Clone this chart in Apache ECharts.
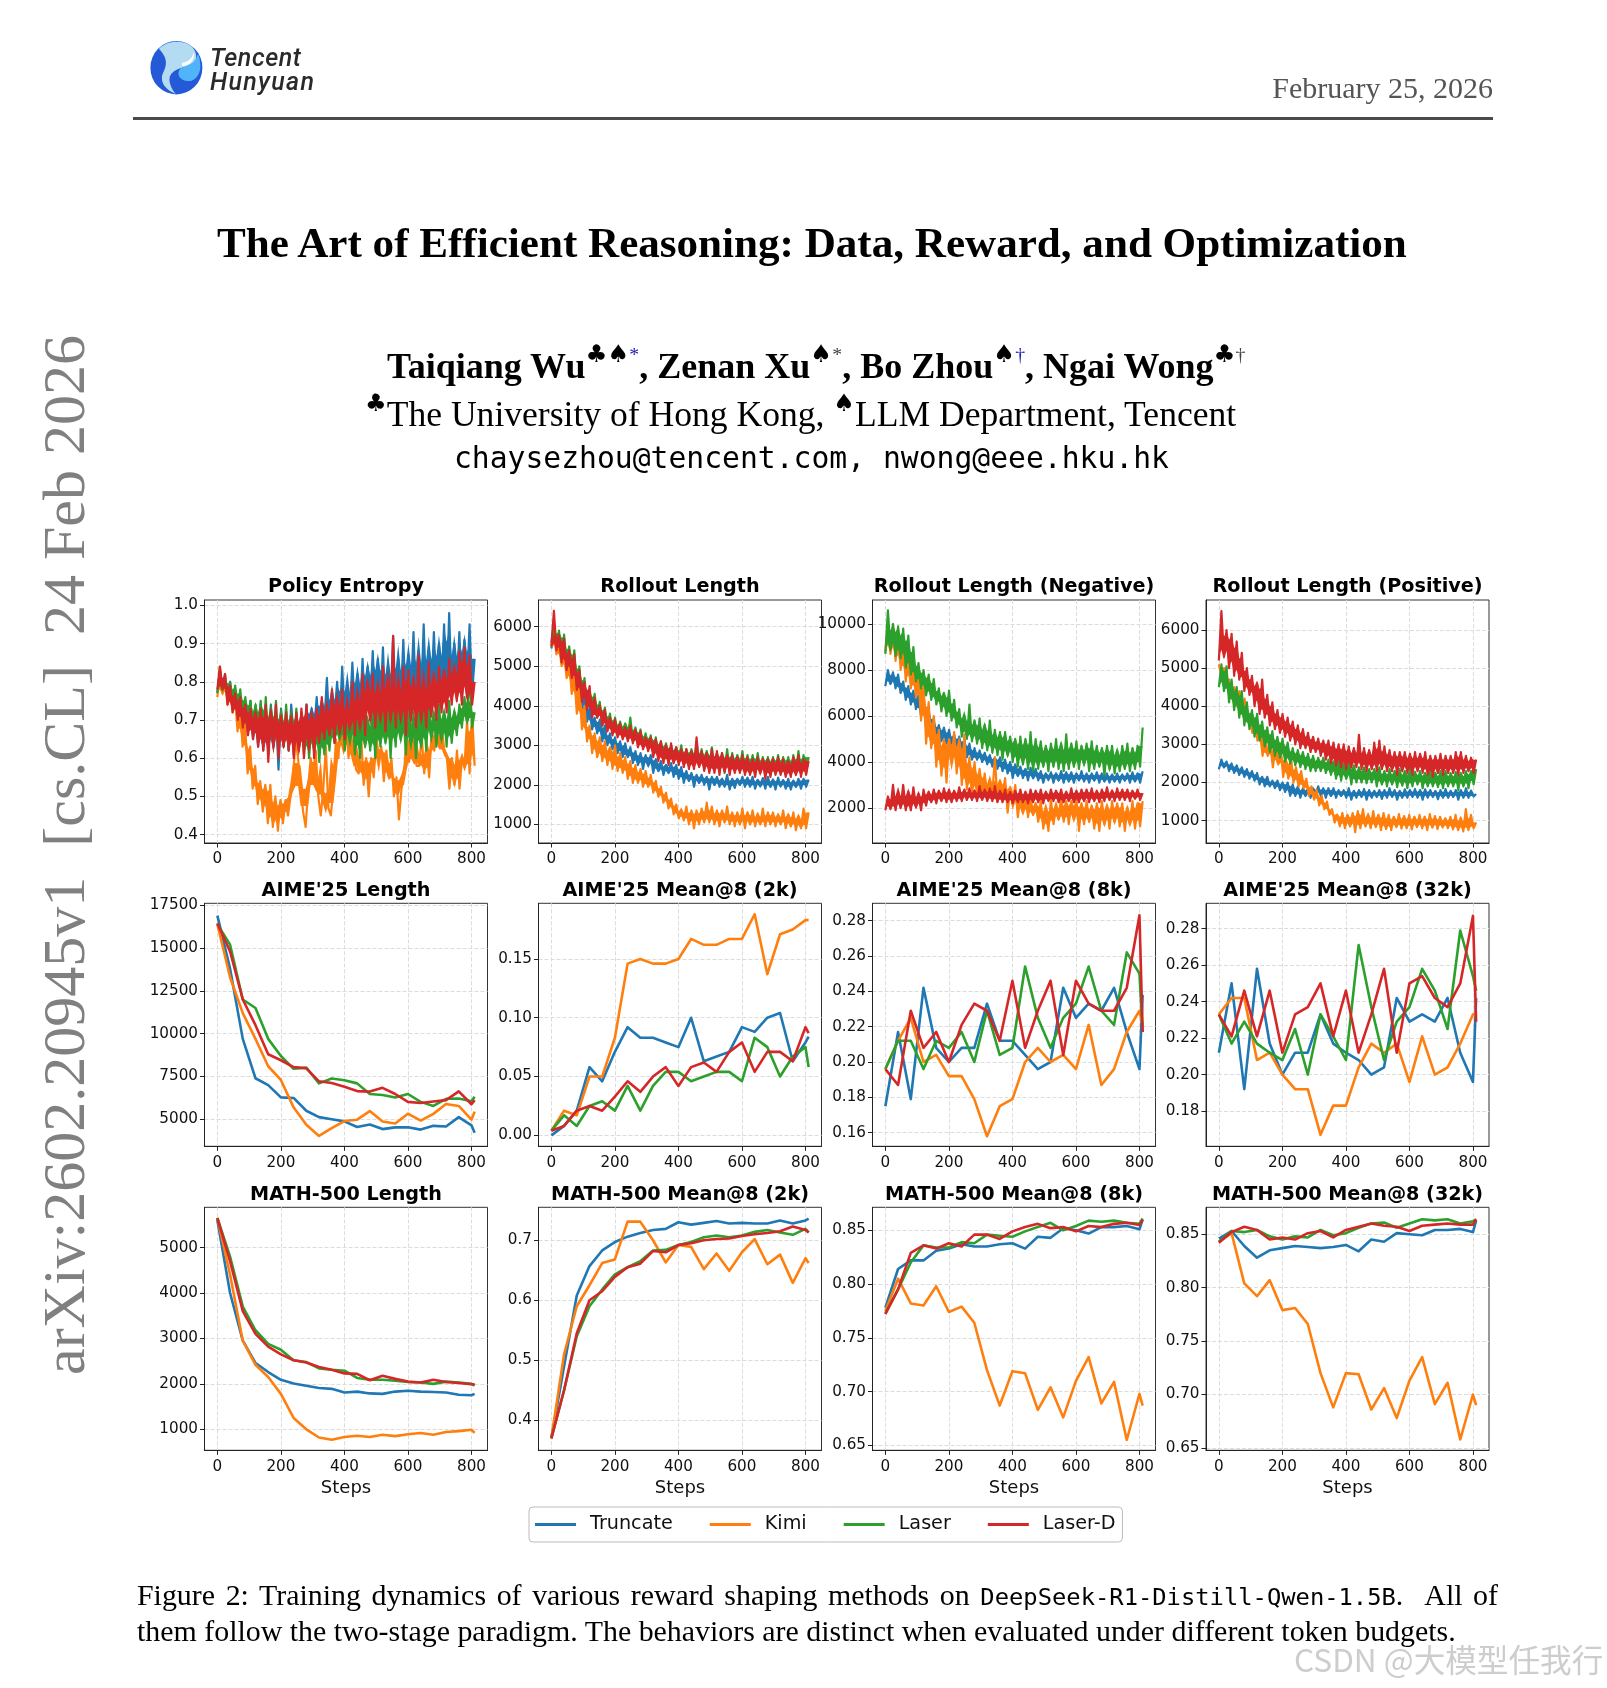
<!DOCTYPE html>
<html><head><meta charset="utf-8">
<script src="https://cdn.jsdelivr.net/npm/echarts@6/dist/echarts.min.js"></script>
<style>
html,body{margin:0;padding:0;background:#fff;width:1607px;height:1688px;overflow:hidden}
#chart{position:absolute;left:0;top:0;width:1607px;height:1688px}
.t{position:absolute;white-space:nowrap;line-height:1;font-family:"Liberation Serif",serif;color:#000}
.m{font-family:"DejaVu Sans Mono",monospace}
.s{font-family:"DejaVu Sans";font-size:.68em;vertical-align:.64em;line-height:0;letter-spacing:0;font-weight:normal}
.o{font-size:.55em;vertical-align:.85em;line-height:0;font-weight:normal}
</style></head><body>
<div id="chart"></div>
<svg class="t" style="left:148px;top:40px" width="58" height="56" viewBox="0 0 58 56">
<ellipse cx="28.4" cy="27.7" rx="26" ry="26.7" fill="#2459d8"/>
<path d="M11 9C18 0 38-1 45 8C50 14 49 22 44 24C36 28 26 28 22 36C20 42 24 50 28 54C18 50 11 42 15 33C19 25 20 18 11 9Z" fill="#b3dcf2"/>
<path d="M52 22C54 32 48 42 40 41C32 41 28 34 32 29C38 25 46 26 50 14C51 16 52 19 52 22Z" fill="#52b4f8"/>
<path d="M34 23C40 22 44 19 46 12C47 20 42 26 34 26Z" fill="#fff"/>
</svg>
<div class="t" style="left:210px;top:45px;font:italic 500 25px/1 'Roboto';color:#2a2a2a;letter-spacing:.6px">Tencent</div>
<div class="t" style="left:210px;top:69px;font:italic 500 25px/1 'Roboto';color:#2a2a2a;letter-spacing:1.3px">Hunyuan</div>
<div class="t" style="right:114px;top:73px;font-size:30px;color:#555">February 25, 2026</div>
<div style="position:absolute;left:133px;top:117px;width:1360px;height:3px;background:#4a4a4a"></div>
<div class="t" style="left:217px;top:221px;font-size:43.1px;font-weight:bold">The Art of Efficient Reasoning: Data, Reward, and Optimization</div>
<div class="t" style="left:387px;top:348px;font-size:36px;font-weight:bold">Taiqiang Wu<span class="s">♣♠</span><span class="o" style="color:#1a1ab0">*</span>, Zenan Xu<span class="s">♠</span><span class="o" style="color:#444">*</span>, Bo Zhou<span class="s">♠</span><span class="o" style="color:#1a1ab0">†</span>, Ngai Wong<span class="s">♣</span><span class="o" style="color:#444">†</span></div>
<div class="t" style="left:365px;top:397px;font-size:35.6px"><span class="s">♣</span>The University of Hong Kong, <span class="s">♠</span>LLM Department, Tencent</div>
<div class="t m" style="left:454px;top:443px;font-size:29.7px">chaysezhou@tencent.com, nwong@eee.hku.hk</div>
<div class="t" style="left:137px;top:1580px;width:1361px;font-size:29.9px;text-align:justify;text-align-last:justify;white-space:normal">Figure 2: Training dynamics of various reward shaping methods on <span class="m" style="font-size:23.8px">DeepSeek-R1-Distill-Qwen-1.5B</span><span style="margin-right:12px">.</span> All of</div>
<div class="t" style="left:137px;top:1616px;font-size:29.9px">them follow the two-stage paradigm. The behaviors are distinct when evaluated under different token budgets.</div>
<div class="t" style="left:1294px;top:1643px;font:31.6px/1 'Noto Sans CJK SC';color:#cdcdcd">CSDN @大模型任我行</div>
<div class="t" style="left:34px;top:1375px;font-size:60px;color:#808080;transform-origin:0 0;transform:rotate(-90deg)">arXiv:2602.20945v1&nbsp; [cs.CL]&nbsp; 24 Feb 2026</div>
<script>
const methodNames = ['Truncate','Kimi','Laser','Laser-D'];
const methodColors = ['#1f77b4','#ff7f0e','#2ca02c','#d62728'];
const xTicks = [0,200,400,600,800];
const evalSteps = [0,40,80,120,160,200,240,280,320,360,400,440,480,520,560,600,640,680,720,760,800,810];

const panelTitles = ['Policy Entropy','Rollout Length','Rollout Length (Negative)','Rollout Length (Positive)',"AIME'25 Length","AIME'25 Mean@8 (2k)","AIME'25 Mean@8 (8k)","AIME'25 Mean@8 (32k)",'MATH-500 Length','MATH-500 Mean@8 (2k)','MATH-500 Mean@8 (8k)','MATH-500 Mean@8 (32k)'];
const yTicks = [
 ['0.4','0.5','0.6','0.7','0.8','0.9','1.0'],
 ['1000','2000','3000','4000','5000','6000'],
 ['2000','4000','6000','8000','10000'],
 ['1000','2000','3000','4000','5000','6000'],
 ['5000','7500','10000','12500','15000','17500'],
 ['0.00','0.05','0.10','0.15'],
 ['0.16','0.18','0.20','0.22','0.24','0.26','0.28'],
 ['0.18','0.20','0.22','0.24','0.26','0.28'],
 ['1000','2000','3000','4000','5000'],
 ['0.4','0.5','0.6','0.7'],
 ['0.65','0.70','0.75','0.80','0.85'],
 ['0.65','0.70','0.75','0.80','0.85']];
const yLimits = [[0.378,1.014],[527,6676],[476,11045],[413,6788],[3425,17617],[-0.0093,0.1973],[0.1523,0.2898],[0.1607,0.2939],[538,5886],[0.35,0.7549],[0.6454,0.8714],[0.6478,0.8752]];

const entropyTruncate=[.77,.83,.78,.82,.76,.80,.74,.78,.71,.76,.69,.74,.66,.75,.65,.72,.63,.74,.62,.71,.61,.74,.63,.72,.57,.73,.64,.71,.62,.74,.65,.70,.64,.72,.66,.74,.64,.73,.67,.76,.65,.75,.69,.81,.68,.77,.70,.80,.69,.84,.70,.79,.72,.85,.71,.82,.72,.86,.70,.84,.74,.88,.72,.86,.73,.89,.71,.84,.75,.92,.73,.86,.74,.91,.72,.87,.76,.93,.73,.88,.75,.95,.74,.89,.76,.93,.75,.90,.77,.95,.75,.98,.76,.90,.77,.93,.75,.91,.78,.95,.77,.86];
const entropyKimi=[.76,.84,.77,.81,.74,.79,.72,.76,.67,.74,.63,.69,.56,.63,.52,.58,.48,.54,.46,.53,.43,.53,.42,.50,.41,.49,.43,.49,.45,.50,.55,.65,.60,.52,.46,.42,.52,.60,.56,.62,.50,.45,.52,.63,.47,.45,.52,.65,.60,.71,.63,.71,.60,.66,.62,.57,.56,.66,.53,.60,.50,.60,.55,.66,.60,.63,.54,.62,.55,.60,.50,.55,.44,.52,.56,.66,.59,.68,.62,.58,.58,.66,.56,.62,.55,.68,.62,.67,.63,.68,.62,.60,.52,.60,.53,.62,.52,.60,.58,.70,.56,.72,.58];
const entropyLaser=[.77,.83,.78,.81,.75,.80,.73,.79,.72,.78,.70,.76,.67,.75,.66,.74,.65,.75,.64,.76,.63,.73,.64,.75,.61,.72,.63,.74,.62,.72,.61,.73,.63,.70,.61,.72,.60,.70,.62,.71,.59,.69,.61,.72,.62,.70,.64,.74,.65,.75,.62,.70,.65,.72,.61,.71,.60,.72,.63,.70,.62,.73,.60,.76,.63,.71,.64,.74,.60,.73,.63,.78,.65,.72,.61,.76,.64,.70,.60,.74,.63,.73,.62,.75,.66,.71,.63,.74,.65,.72,.63,.75,.64,.72,.66,.74,.68,.76,.70,.82,.68,.72];
const entropyLaserD=[.78,.84,.78,.82,.74,.79,.72,.77,.70,.76,.68,.74,.66,.73,.65,.72,.63,.73,.62,.74,.59,.72,.64,.74,.60,.71,.63,.72,.62,.71,.60,.72,.62,.73,.60,.74,.63,.72,.60,.73,.64,.76,.65,.74,.66,.78,.64,.76,.67,.78,.65,.74,.68,.80,.66,.77,.68,.82,.66,.80,.70,.82,.68,.79,.70,.84,.67,.81,.70,.92,.68,.80,.70,.84,.66,.83,.70,.81,.68,.87,.70,.80,.68,.85,.71,.82,.70,.84,.72,.83,.72,.86,.74,.84,.75,.88,.74,.89,.76,.87,.74,.80];

const rolloutTruncate=[5450,5800,5500,5750,5200,5500,4900,5350,4500,4900,4050,4600,3900,4300,3600,3950,3400,3700,3300,3650,3100,3500,3000,3300,2900,3200,2800,3100,2700,3050,2700,2950,2550,2850,2500,2800,2400,2750,2500,2750,2300,2650,2350,2600,2250,2500,2300,2550,2200,2500,2150,2450,2050,2350,2100,2300,1950,2250,2050,2250,2000,2200,1880,2200,2000,2200,1950,2150,1950,2250,1880,2150,1920,2150,2000,2200,1950,2180,1950,2200,1900,2120,1970,2170,1900,2200,1950,2130,1880,2180,1970,2120,1900,2150,1880,2100,1950,2150,1900,2150,1950,2130];
const rolloutKimi=[5500,5800,5300,5600,5000,5300,4700,5100,4300,4800,3800,4500,3400,4000,3100,3500,2800,3300,2700,3200,2600,3100,2500,2950,2400,3000,2350,2800,2300,2700,2150,2600,2050,2500,2050,2400,1950,2350,1950,2250,1800,2100,1700,1950,1550,1800,1400,1650,1250,1500,1150,1350,1100,1450,1000,1350,900,1350,1000,1400,1050,1550,1050,1450,1000,1350,950,1350,1050,1450,1000,1300,950,1300,1000,1400,900,1300,1000,1350,950,1250,1000,1400,950,1300,1000,1300,950,1250,1000,1350,900,1250,950,1300,850,1200,900,1400,900,1300];
const rolloutLaser=[5600,6100,5500,5900,5200,5800,5000,5500,4800,5400,4500,5000,4200,4700,4000,4400,3800,4300,3700,4100,3500,3950,3400,3800,3300,3700,3250,3600,3200,3550,3200,3700,3100,3450,3000,3400,2950,3300,2900,3250,2800,3200,2750,3100,2700,3050,2650,3000,2600,2950,2600,3000,2550,2900,2500,2900,2450,3100,2500,2900,2400,2850,2350,2950,2450,2800,2350,2800,2300,2900,2350,2800,2350,2750,2400,2850,2300,2750,2300,2750,2250,2800,2350,2700,2250,2700,2250,2700,2300,2750,2350,2700,2250,2700,2250,2750,2300,2850,2300,2750,2300,2700];
const rolloutLaserD=[5500,6400,5400,5800,5100,5700,4900,5400,4700,5300,4400,4900,4100,4600,3900,4500,3700,4200,3700,4000,3500,3900,3350,3700,3250,3650,3200,3550,3150,3450,3100,3500,3050,3400,2950,3350,2900,3200,2850,3200,2700,3150,2600,3100,2550,3000,2500,3050,2550,2950,2500,2900,2450,2900,2400,2850,2400,3200,2450,2850,2350,2800,2300,2900,2300,2850,2250,2800,2350,2750,2250,2750,2300,2700,2300,2750,2250,2700,2250,2650,2200,2700,2300,2650,2150,2650,2200,2650,2250,2700,2250,2650,2200,2600,2200,2700,2250,2750,2200,2650,2250,2600];

const negTruncate=[7300,8000,7400,7900,7200,7800,7000,7500,6700,7300,6500,7100,6300,6900,6000,6500,5800,6300,5300,5900,5000,5600,4900,5500,4800,5400,4700,5200,4500,5100,4400,5000,4200,4800,4100,4600,4100,4500,4000,4400,3900,4300,3800,4200,3700,4200,3600,4100,3500,4000,3300,3900,3400,3800,3300,3700,3200,3750,3300,3700,3200,3600,3100,3500,3250,3550,3100,3500,3200,3600,3100,3550,3150,3550,3100,3500,3200,3600,3150,3500,3100,3500,3200,3550,3100,3500,3150,3500,3100,3450,3150,3500,3100,3450,3200,3500,3100,3550,3150,3500,3100,3600];
const negKimi=[8800,9900,8700,10000,8400,9800,8000,9400,7500,8800,7200,8600,6800,7800,5800,7400,4800,6600,4600,6000,3800,5400,3400,5000,3100,5000,4000,5300,3500,4900,3000,5200,2800,4200,2500,4000,2700,3700,2500,3500,2400,3200,2600,4200,2300,3200,2500,3300,1800,2900,2200,3000,1600,2500,1800,2600,1600,2400,1700,2200,1400,2300,1100,2000,1000,2400,1300,2100,1500,2500,1400,2300,1300,2300,1500,2400,1000,2200,1300,2300,1400,2100,1100,2200,1000,2300,1300,2100,1100,2300,1400,2200,1200,2200,1000,2000,1300,2300,1100,2200,1200,2300];
const negLaser=[8700,10600,8900,10000,8600,9900,8500,9800,8100,9500,7800,9000,7500,8300,7200,8000,6900,7800,6700,7600,6500,7200,6200,7000,6000,7100,5800,6700,5500,6300,5100,6000,5000,6500,4900,5800,4800,5900,4600,5600,4500,5800,4400,5400,4300,5300,4100,5300,4300,5100,4000,5000,3800,5100,3900,5000,3700,5300,3600,5000,3700,4900,3800,4700,3600,4800,3800,5000,3700,4800,3600,5200,3700,4800,3800,4900,3700,4700,3900,4800,3600,4900,3700,4700,3800,4600,3400,4700,3700,4700,3500,4500,3600,4700,3700,4800,3600,4600,3700,4700,3800,5500];
const negLaserD=[1900,2500,1950,3000,1900,2700,2000,3000,1900,2700,1900,2900,2050,2600,1900,2800,2100,2700,2250,2800,2200,2750,2300,2850,2250,2800,2250,2750,2300,2900,2300,2800,2350,2850,2350,2750,2300,2950,2350,2800,2300,2850,2300,2950,2250,2750,2250,2800,2250,2700,2200,2750,2250,2800,2250,2700,2200,2800,2250,2750,2250,2800,2200,2700,2300,2800,2300,2750,2250,2800,2250,2700,2300,2850,2250,2750,2250,2800,2300,2800,2250,2850,2300,2750,2250,2800,2300,2900,2350,2750,2300,2850,2350,2800,2350,2800,2300,2750,2400,2800,2350,2650];

const posTruncate=[2350,2600,2400,2550,2300,2500,2250,2450,2200,2400,2150,2350,2100,2300,2050,2250,1950,2150,1900,2150,1900,2050,1850,2050,1800,2000,1750,2000,1650,1950,1650,1900,1600,1850,1650,1850,1600,1850,1700,1900,1650,1850,1600,1850,1650,1850,1600,1800,1650,1800,1600,1850,1550,1780,1600,1800,1620,1830,1550,1800,1600,1780,1620,1800,1570,1800,1600,1850,1620,1800,1550,1780,1600,1820,1600,1800,1620,1830,1600,1800,1550,1820,1600,1800,1620,1780,1560,1800,1600,1830,1600,1780,1620,1800,1550,1800,1600,1850,1600,1790,1630,1700];
const posKimi=[5100,4800,5000,4500,4700,4200,4500,4000,4400,3800,4200,3600,3800,3300,3600,3100,3300,2700,3200,2700,3000,2400,2900,2500,2900,2150,2600,2100,2700,2000,2400,1900,2300,1850,2100,1650,1900,1550,1800,1400,1650,1300,1500,1150,1300,950,1150,850,1200,800,1150,850,1200,700,1250,800,1300,850,1150,800,1250,830,1150,750,1200,780,1150,750,1100,830,1170,790,1120,800,1150,770,1100,830,1150,800,1100,750,1170,820,1120,780,1100,820,1060,800,1100,770,1150,750,1060,720,1300,750,1150,800,950];
const posLaser=[4500,5100,4400,5050,4100,4700,3900,4500,3700,4400,3500,4100,3400,3900,3200,3800,3100,3600,2950,3450,2800,3350,2700,3200,2650,3150,2550,3050,2500,2900,2450,2850,2400,2800,2350,2750,2300,2700,2300,2650,2300,2650,2250,2600,2200,2550,2100,2600,2050,2500,2100,2500,1950,2450,2000,2400,2000,2400,1980,2350,2000,2350,1900,2400,1950,2300,1900,2350,1950,2300,1880,2350,1920,2300,1850,2350,1900,2280,1950,2300,1850,2250,1900,2300,1900,2250,1880,2300,1850,2300,1900,2250,1900,2280,1800,2250,1900,2300,1850,2300,1950,2350];
const posLaserD=[5200,6500,5300,6000,5000,5900,4800,5700,4700,5400,4400,5000,4300,4800,4000,4600,3800,4700,3700,4300,3500,4100,3400,3900,3300,3800,3200,3700,3100,3600,3000,3500,2900,3400,2900,3300,2800,3200,2800,3150,2700,3100,2600,3100,2500,3050,2450,3000,2400,3000,2350,2950,2400,2900,2400,3250,2350,2900,2300,2850,2350,3050,2300,3100,2350,2950,2300,2850,2300,2800,2200,2800,2300,2800,2250,2750,2200,2800,2300,2750,2250,2800,2200,2700,2150,2700,2250,2750,2200,2700,2250,2700,2250,2800,2200,2800,2250,2700,2300,2650,2250,2600];

const aimeLenTruncate=[16900,13800,9700,7400,7000,6280,6250,5500,5130,5000,4880,4550,4700,4430,4530,4540,4400,4620,4580,5130,4650,4220];
const aimeLenKimi=[16400,13300,11200,9700,8100,7300,5700,4680,4030,4480,4900,4980,5480,4870,4760,5330,4930,5320,5900,5780,4980,5450];
const aimeLenLaser=[16400,15200,12000,11500,9700,8700,7950,8020,7100,7380,7280,7100,6480,6420,6280,6480,6020,5780,6200,6220,6050,6320];
const aimeLenLaserD=[16450,14800,12000,10500,8800,8450,8050,7980,7220,7120,6900,6650,6620,6840,6480,6020,5950,6040,6120,6630,5880,6120];

const aime2kTruncate=[0,.008,.021,.058,.046,.071,.092,.083,.083,.079,.075,.100,.063,.067,.071,.092,.088,.100,.104,.063,.079,.084];
const aime2kKimi=[.004,.021,.017,.050,.050,.083,.146,.150,.146,.146,.150,.167,.162,.162,.167,.167,.188,.137,.171,.175,.183,.183];
const aime2kLaser=[.004,.017,.008,.025,.029,.021,.042,.021,.042,.054,.054,.046,.050,.054,.054,.046,.083,.075,.050,.067,.075,.058];
const aime2kLaserD=[.004,.008,.021,.025,.021,.033,.046,.037,.050,.058,.042,.058,.062,.054,.071,.079,.054,.071,.071,.063,.092,.087];

const aime8kTruncate=[.175,.217,.179,.242,.208,.200,.208,.208,.233,.212,.212,.204,.196,.200,.242,.225,.233,.229,.242,.217,.196,.238];
const aime8kKimi=[.196,.212,.225,.200,.204,.192,.192,.179,.158,.175,.179,.200,.208,.200,.204,.196,.221,.187,.196,.217,.229,.221];
const aime8kLaser=[.196,.212,.212,.196,.212,.208,.217,.200,.229,.204,.208,.254,.225,.208,.225,.233,.254,.229,.221,.262,.250,.217];
const aime8kLaserD=[.196,.187,.229,.208,.217,.200,.221,.233,.229,.212,.246,.208,.229,.246,.204,.246,.233,.229,.229,.242,.283,.217];

const aime32kTruncate=[.212,.250,.192,.258,.217,.200,.212,.212,.233,.217,.212,.208,.200,.204,.242,.229,.233,.229,.242,.212,.196,.242];
const aime32kKimi=[.233,.242,.242,.208,.212,.200,.192,.192,.167,.183,.183,.204,.217,.212,.217,.196,.221,.200,.204,.217,.233,.233];
const aime32kLaser=[.233,.217,.229,.217,.212,.208,.225,.200,.233,.221,.208,.271,.237,.208,.229,.237,.258,.246,.225,.279,.254,.246];
const aime32kLaserD=[.233,.221,.246,.221,.246,.212,.233,.237,.250,.221,.246,.212,.233,.258,.212,.250,.254,.242,.237,.250,.287,.229];

const mathLenTruncate=[5600,4000,2950,2460,2260,2090,2010,1960,1910,1890,1810,1830,1790,1780,1830,1850,1830,1820,1810,1760,1750,1780];
const mathLenKimi=[5650,4400,2950,2420,2150,1780,1250,1000,820,770,830,860,830,880,850,890,920,880,940,960,990,920];
const mathLenLaser=[5650,4800,3700,3180,2880,2750,2520,2480,2340,2310,2290,2130,2090,2090,2070,2040,2030,2000,2050,2030,2000,1960];
const mathLenLaserD=[5650,4700,3600,3100,2820,2650,2520,2470,2370,2310,2230,2220,2080,2180,2110,2050,2030,2090,2040,2020,1990,1990];

const math2kTruncate=[.37,.49,.608,.657,.683,.697,.706,.712,.717,.719,.730,.726,.729,.732,.728,.729,.728,.728,.733,.728,.733,.736];
const math2kKimi=[.37,.51,.59,.625,.662,.668,.731,.731,.70,.663,.692,.689,.652,.678,.649,.68,.702,.66,.676,.629,.67,.662];
const math2kLaser=[.37,.45,.54,.59,.618,.643,.655,.665,.683,.684,.692,.697,.705,.708,.705,.708,.714,.717,.713,.709,.719,.713];
const math2kLaserD=[.37,.45,.545,.60,.615,.639,.655,.661,.682,.68,.692,.695,.70,.702,.703,.707,.71,.712,.715,.723,.717,.713];

const math8kTruncate=[.778,.814,.822,.822,.831,.833,.837,.835,.835,.837,.838,.833,.844,.843,.852,.850,.847,.853,.853,.854,.851,.860];
const math8kKimi=[.775,.805,.782,.780,.798,.774,.779,.764,.72,.687,.719,.717,.683,.704,.676,.71,.732,.689,.709,.655,.698,.687];
const math8kLaser=[.773,.795,.820,.836,.834,.834,.839,.838,.846,.845,.844,.849,.853,.857,.850,.854,.859,.858,.859,.857,.856,.861];
const math8kLaserD=[.772,.795,.829,.836,.833,.838,.835,.846,.846,.842,.849,.853,.856,.852,.853,.849,.854,.853,.856,.857,.855,.860];

const math32kTruncate=[.846,.853,.839,.828,.835,.837,.839,.838,.837,.838,.840,.834,.845,.843,.851,.850,.849,.854,.854,.855,.852,.863];
const math32kKimi=[.843,.851,.804,.792,.807,.779,.781,.766,.72,.688,.72,.719,.686,.706,.678,.713,.735,.691,.711,.658,.70,.69];
const math32kLaser=[.843,.853,.852,.854,.848,.845,.848,.847,.854,.849,.851,.856,.860,.861,.856,.860,.864,.863,.864,.860,.862,.864];
const math32kLaserD=[.842,.852,.857,.854,.845,.847,.845,.851,.853,.847,.854,.857,.860,.858,.857,.853,.858,.859,.860,.859,.859,.864];

const panelSeries = [
 [entropyTruncate,entropyKimi,entropyLaser,entropyLaserD],
 [rolloutTruncate,rolloutKimi,rolloutLaser,rolloutLaserD],
 [negTruncate,negKimi,negLaser,negLaserD],
 [posTruncate,posKimi,posLaser,posLaserD],
 [aimeLenTruncate,aimeLenKimi,aimeLenLaser,aimeLenLaserD],
 [aime2kTruncate,aime2kKimi,aime2kLaser,aime2kLaserD],
 [aime8kTruncate,aime8kKimi,aime8kLaser,aime8kLaserD],
 [aime32kTruncate,aime32kKimi,aime32kLaser,aime32kLaserD],
 [mathLenTruncate,mathLenKimi,mathLenLaser,mathLenLaserD],
 [math2kTruncate,math2kKimi,math2kLaser,math2kLaserD],
 [math8kTruncate,math8kKimi,math8kLaser,math8kLaserD],
 [math32kTruncate,math32kKimi,math32kLaser,math32kLaserD]];

const colLeft=[204.5,538.5,872.5,1206], rowTop=[600,903.3,1207.3], panelW=283, panelH=243;
const grid=[],xAxis=[],yAxis=[],title=[],series=[];
// Solid core of a dense noisy trace, taken from the readings around each point; the peaks stay as spikes beyond it.
function coreBand(points){
  const up=[],lo=[];
  points.forEach((p,i)=>{
    const w=points.slice(Math.max(0,i-2),i+3).map(q=>q[1]).sort((a,b)=>a-b);
    const mid=w[Math.floor(w.length/2)];
    up.push([p[0],(mid+3*w[w.length-2])/4]);lo.push([p[0],(mid+3*w[1])/4]);
  });
  return up.concat(lo.reverse());
}
panelTitles.forEach((name,p)=>{
  const c=p%4,r=Math.floor(p/4),l=colLeft[c],t=rowTop[r];
  grid.push({left:l,top:t,width:panelW,height:panelH,show:true,borderColor:'#333',borderWidth:1,backgroundColor:'#fff'});
  title.push({text:name,left:l+panelW/2,top:t-22.5,padding:0,textAlign:'center',textStyle:{fontFamily:'DejaVu Sans',fontWeight:'bold',fontSize:19.2,color:'#000',lineHeight:20}});
  const split={show:true,lineStyle:{color:'#dcdcdc',type:[4,2],width:1}};
  const tick={show:true,length:4.5,lineStyle:{color:'#222',width:1}};
  xAxis.push({gridIndex:p,type:'value',min:-40.5,max:850.5,name:r===2?'Steps':'',nameLocation:'middle',nameGap:29,
    nameTextStyle:{fontFamily:'DejaVu Sans',fontSize:18,color:'#111'},
    axisLine:{show:true,onZero:false,lineStyle:{color:'#222',width:1}},
    axisTick:{...tick,customValues:xTicks},splitLine:split,
    axisLabel:{customValues:xTicks,fontFamily:'DejaVu Sans',fontSize:15.2,color:'#111',margin:9}});
  const labels=yTicks[p],dec=(labels[0].split('.')[1]||'').length,vals=labels.map(Number);
  yAxis.push({gridIndex:p,type:'value',min:yLimits[p][0],max:yLimits[p][1],
    axisLine:{show:true,onZero:false,lineStyle:{color:'#222',width:1}},
    axisTick:{...tick,customValues:vals},splitLine:split,
    axisLabel:{customValues:vals,formatter:v=>Number(v).toFixed(dec),fontFamily:'DejaVu Sans',fontSize:15.2,color:'#111',margin:6.5}});
  panelSeries[p].forEach((vals2,m)=>{
    const noisy=vals2.length>evalSteps.length;
    const pts=vals2.map((v,i)=>[noisy?i*810/(vals2.length-1):evalSteps[i],v]);
    if(noisy){
      const band=coreBand(pts);
      series.push({type:'custom',xAxisIndex:p,yAxisIndex:p,silent:true,animation:false,z:3+m,data:[pts[0]],clip:true,
        renderItem:(params,api)=>({type:'polygon',shape:{points:band.map(b=>api.coord(b))},style:{fill:methodColors[m]}})});
    }
    series.push({type:'line',name:methodNames[m],xAxisIndex:p,yAxisIndex:p,showSymbol:false,symbol:'none',silent:true,animation:false,z:3+m,
      lineStyle:{color:methodColors[m],width:noisy?2.2:2.6,join:'round'},itemStyle:{color:methodColors[m]},data:pts});
  });
});
const chart=echarts.init(document.getElementById('chart'),null,{renderer:'canvas',width:1607,height:1688});
chart.setOption({animation:false,backgroundColor:'transparent',grid,xAxis,yAxis,title,series,
  legend:{data:methodNames,left:529,top:1507,orient:'horizontal',padding:[8,7,8,6],itemWidth:41,itemHeight:3,itemGap:37,icon:'rect',borderColor:'#bbb',borderWidth:1,borderRadius:4,backgroundColor:'#fff',
    textStyle:{fontFamily:'DejaVu Sans',fontSize:19.2,color:'#111',padding:[0,0,0,9]}}});
</script>
</body></html>
